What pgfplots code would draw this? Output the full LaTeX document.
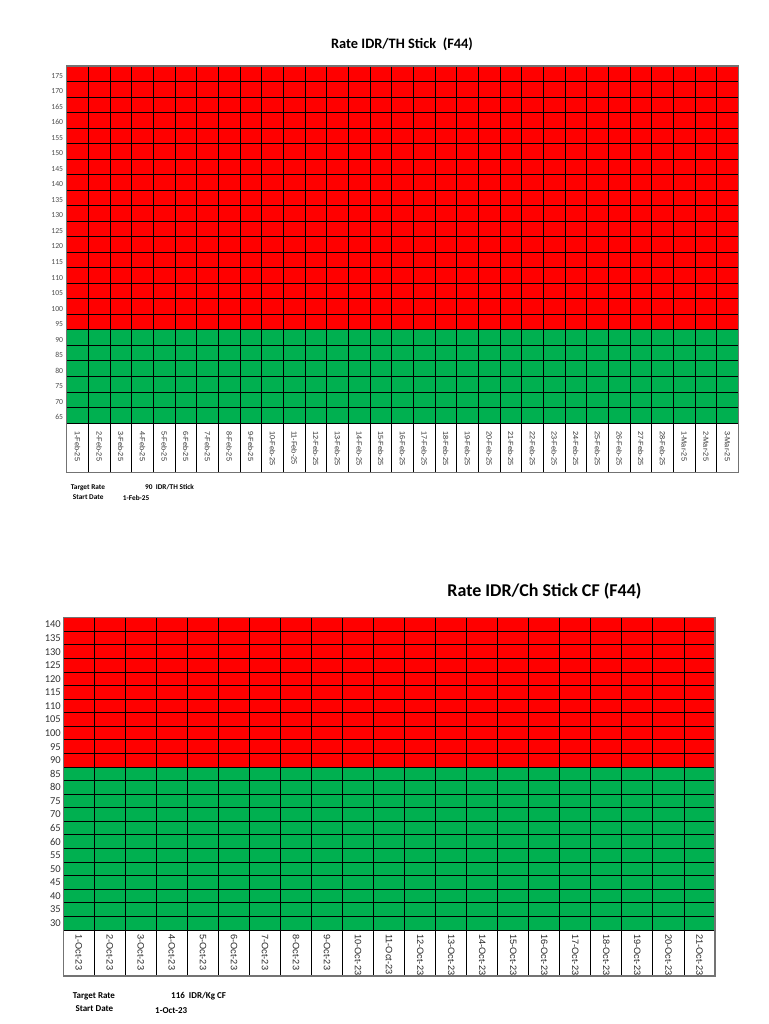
\documentclass[border=0pt]{standalone}
\usepackage{pgfplots}
\usepackage{pgfplotstable}
\pgfplotsset{compat=1.18}
\usepackage{fontspec}
\setmainfont{Carlito}
\newfontfamily\arial{Liberation Sans}

\definecolor{cellred}{HTML}{FF0000}
\definecolor{cellgreen}{HTML}{00B050}

% rows per day: cells at or below target (green) and above it (red)
\pgfplotstableread{
x green red
0.5 6 17
1.5 6 17
2.5 6 17
3.5 6 17
4.5 6 17
5.5 6 17
6.5 6 17
7.5 6 17
8.5 6 17
9.5 6 17
10.5 6 17
11.5 6 17
12.5 6 17
13.5 6 17
14.5 6 17
15.5 6 17
16.5 6 17
17.5 6 17
18.5 6 17
19.5 6 17
20.5 6 17
21.5 6 17
22.5 6 17
23.5 6 17
24.5 6 17
25.5 6 17
26.5 6 17
27.5 6 17
28.5 6 17
29.5 6 17
30.5 6 17
}\sticktable

\pgfplotstableread{
x green red
0.5 12 11
1.5 12 11
2.5 12 11
3.5 12 11
4.5 12 11
5.5 12 11
6.5 12 11
7.5 12 11
8.5 12 11
9.5 12 11
10.5 12 11
11.5 12 11
12.5 12 11
13.5 12 11
14.5 12 11
15.5 12 11
16.5 12 11
17.5 12 11
18.5 12 11
19.5 12 11
20.5 12 11
}\cftable

\pgfplotsset{
  gridchart/.style={
    scale only axis, anchor=south west,
    ybar stacked, bar width=1, enlargelimits=false,
    axis on top,
    axis line style={black!55, line width=1.4pt},
    major tick length=0pt, minor tick length=0pt,
    xminorgrids=true, yminorgrids=true,
    minor grid style={black, line width=0.9pt},
    yticklabel style={inner sep=0pt},
    xticklabel style={rotate=-90, anchor=west, inner sep=0pt},
    /pgf/number format/assume math mode=true,
  },
}

\begin{document}
\begin{tikzpicture}
\path[use as bounding box] (0pt,0pt) rectangle (768pt,-1024pt);

% ---- chart 1 ----
\node[anchor=base, font=\fontsize{14.4}{16}\selectfont\bfseries]
  at (402pt,-48.3pt) {Rate IDR/TH Stick\ \ (F44)};
\begin{axis}[gridchart,
  width=671.6pt, height=406.7pt, at={(66.7pt,-472.7pt)},
  xmin=0, xmax=31, ymin=-3.2, ymax=23,
  minor xtick={0,1,...,31}, minor ytick={0,1,...,23},
  xtick={0.5,1.5,...,30.5},
  xticklabels={1-Feb-25,2-Feb-25,3-Feb-25,4-Feb-25,5-Feb-25,6-Feb-25,7-Feb-25,8-Feb-25,9-Feb-25,10-Feb-25,11-Feb-25,12-Feb-25,13-Feb-25,14-Feb-25,15-Feb-25,16-Feb-25,17-Feb-25,18-Feb-25,19-Feb-25,20-Feb-25,21-Feb-25,22-Feb-25,23-Feb-25,24-Feb-25,25-Feb-25,26-Feb-25,27-Feb-25,28-Feb-25,1-Mar-25,2-Mar-25,3-Mar-25},
  xticklabel shift=-41.7pt,
  x tick label style={font=\arial\fontsize{7.4}{8}\selectfont, text=black!80},
  ytick={0.5,1.5,...,22.5},
  yticklabels={65,70,75,80,85,90,95,100,105,110,115,120,125,130,135,140,145,150,155,160,165,170,175},
  yticklabel shift=3.4pt,
  y tick label style={font=\fontsize{7.7}{8}\selectfont, text=black!70, yshift=-2pt},
]
\addplot[fill=cellgreen, draw=none] table[x=x, y=green] {\sticktable};
\addplot[fill=cellred, draw=none] table[x=x, y=red] {\sticktable};
\end{axis}
\begin{scope}[font=\fontsize{7.3}{8}\selectfont\bfseries]
\node[anchor=base west, inner sep=0pt] at (70.7pt,-489.3pt) {Target Rate};
\node[anchor=base west, inner sep=0pt] at (145pt,-489.3pt) {90\ \ IDR/TH Stick};
\node[anchor=base west, inner sep=0pt] at (72.7pt,-499.3pt) {Start Date};
\node[anchor=base west, inner sep=0pt] at (122.7pt,-500.5pt) {1-Feb-25};
\end{scope}

% ---- chart 2 ----
\node[anchor=base, font=\fontsize{18}{20}\selectfont\bfseries]
  at (544.5pt,-596pt) {Rate IDR/Ch Stick CF (F44)};
\begin{axis}[gridchart,
  width=651.7pt, height=358.3pt, at={(63.3pt,-976pt)},
  xmin=0, xmax=21, ymin=-3.39, ymax=23,
  minor xtick={0,1,...,21}, minor ytick={0,1,...,23},
  xtick={0.5,1.5,...,20.5},
  xticklabels={1-Oct-23,2-Oct-23,3-Oct-23,4-Oct-23,5-Oct-23,6-Oct-23,7-Oct-23,8-Oct-23,9-Oct-23,10-Oct-23,11-Oct-23,12-Oct-23,13-Oct-23,14-Oct-23,15-Oct-23,16-Oct-23,17-Oct-23,18-Oct-23,19-Oct-23,20-Oct-23,21-Oct-23},
  xticklabel shift=-42pt,
  x tick label style={font=\arial\fontsize{9.25}{10}\selectfont, text=black!85},
  ytick={0.5,1.5,...,22.5},
  yticklabels={30,35,40,45,50,55,60,65,70,75,80,85,90,95,100,105,110,115,120,125,130,135,140},
  yticklabel shift=2.3pt,
  y tick label style={font=\fontsize{10.5}{11}\selectfont, text=black!80},
]
\addplot[fill=cellgreen, draw=none] table[x=x, y=green] {\cftable};
\addplot[fill=cellred, draw=none] table[x=x, y=red] {\cftable};
\end{axis}
\begin{scope}[font=\fontsize{9}{10}\selectfont\bfseries]
\node[anchor=base west, inner sep=0pt] at (72.7pt,-998pt) {Target Rate};
\node[anchor=base west, inner sep=0pt] at (171pt,-998pt) {116\ \ IDR/Kg CF};
\node[anchor=base west, inner sep=0pt] at (75.3pt,-1011pt) {Start Date};
\node[anchor=base west, inner sep=0pt] at (155pt,-1013pt) {1-Oct-23};
\end{scope}
\end{tikzpicture}
\end{document}
